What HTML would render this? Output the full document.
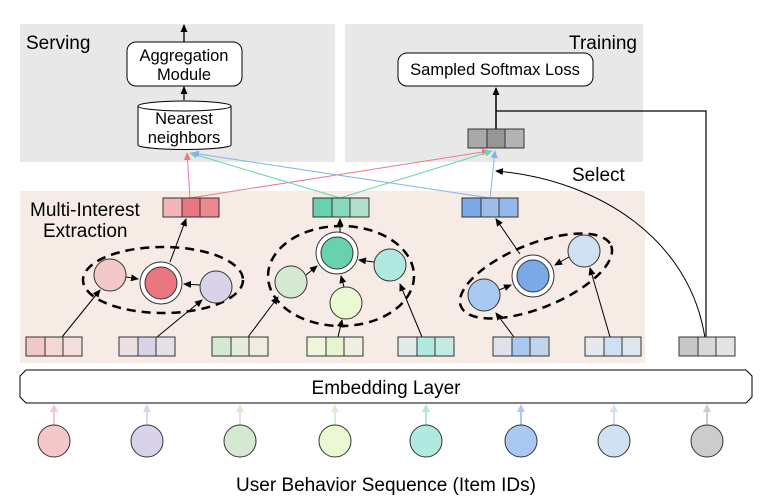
<!DOCTYPE html>
<html><head><meta charset="utf-8"><style>
html,body{margin:0;padding:0;background:#fff;}
svg{display:block;font-family:"Liberation Sans",Arial,sans-serif;}
</style></head><body>
<svg width="764" height="503" viewBox="0 0 764 503" xmlns="http://www.w3.org/2000/svg">
<defs>
<marker id="ak" markerWidth="8" markerHeight="8" refX="7" refY="4" orient="auto" markerUnits="userSpaceOnUse"><path d="M0,0.5 L8,4 L0,7.5 z" fill="#000"/></marker>
<marker id="ar" markerWidth="8" markerHeight="8" refX="7" refY="4" orient="auto" markerUnits="userSpaceOnUse"><path d="M0,0.5 L8,4 L0,7.5 z" fill="#ee7a85"/></marker>
<marker id="at" markerWidth="8" markerHeight="8" refX="7" refY="4" orient="auto" markerUnits="userSpaceOnUse"><path d="M0,0.5 L8,4 L0,7.5 z" fill="#6bd4b0"/></marker>
<marker id="ab" markerWidth="8" markerHeight="8" refX="7" refY="4" orient="auto" markerUnits="userSpaceOnUse"><path d="M0,0.5 L8,4 L0,7.5 z" fill="#86b2ec"/></marker>
</defs>
<rect x="20" y="24" width="315" height="138" fill="#e8e8e8"/>
<rect x="345" y="24" width="298" height="138" fill="#e8e8e8"/>
<rect x="20" y="191" width="625" height="172" fill="#f6ebe5"/>
<text x="26" y="49" font-size="19">Serving</text>
<text x="637" y="49" font-size="19" text-anchor="end">Training</text>
<text x="30" y="216" font-size="19">Multi-Interest</text>
<text x="43" y="237" font-size="19">Extraction</text>
<text x="572" y="181" font-size="19">Select</text>
<line x1="184" y1="42" x2="184" y2="25" stroke="#000" stroke-width="1.3" marker-end="url(#ak)"/>
<rect x="127" y="42" width="115" height="44" rx="9" fill="#fff" stroke="#000" stroke-width="1"/>
<text x="184" y="61" font-size="16.5" text-anchor="middle">Aggregation</text>
<text x="184" y="80" font-size="16.5" text-anchor="middle">Module</text>
<line x1="184" y1="100" x2="184" y2="87" stroke="#000" stroke-width="1.3" marker-end="url(#ak)"/>
<path d="M138,106 L138,145 A46.5,4.5 0 0 0 231,145 L231,106" fill="#fff" stroke="#000" stroke-width="1"/>
<ellipse cx="184.5" cy="106" rx="46.5" ry="5" fill="#fff" stroke="#000" stroke-width="1"/>
<text x="184" y="124" font-size="16.5" text-anchor="middle">Nearest</text>
<text x="184" y="143" font-size="16.5" text-anchor="middle">neighbors</text>
<rect x="398" y="53" width="195" height="33" rx="9" fill="#fff" stroke="#000" stroke-width="1"/>
<text x="495" y="75" font-size="16.5" text-anchor="middle">Sampled Softmax Loss</text>
<line x1="496" y1="129" x2="496" y2="88" stroke="#000" stroke-width="1.5" marker-end="url(#ak)"/>
<polyline points="496,111 706,111 706,338" fill="none" stroke="#000" stroke-width="1.2"/>
<g stroke="#333" stroke-width="1">
<rect x="468" y="129" width="19" height="19" fill="#a9a9a9"/><rect x="487" y="129" width="18" height="19" fill="#969696"/><rect x="505" y="129" width="19" height="19" fill="#b3b3b3"/>
</g>
<path d="M705,338 C690,240 600,180 496,171" fill="none" stroke="#000" stroke-width="1" marker-end="url(#ak)"/>
<line x1="190" y1="198" x2="187" y2="153" stroke="#ee7a85" stroke-width="1" marker-end="url(#ar)"/>
<line x1="190" y1="198" x2="489" y2="151" stroke="#ee7a85" stroke-width="1" marker-end="url(#ar)"/>
<line x1="340" y1="198" x2="190" y2="153" stroke="#6bd4b0" stroke-width="1" marker-end="url(#at)"/>
<line x1="340" y1="198" x2="492" y2="151" stroke="#6bd4b0" stroke-width="1" marker-end="url(#at)"/>
<line x1="490" y1="198" x2="192" y2="153" stroke="#86b2ec" stroke-width="1" marker-end="url(#ab)"/>
<line x1="490" y1="198" x2="495" y2="151" stroke="#86b2ec" stroke-width="1" marker-end="url(#ab)"/>
<g stroke="#333" stroke-width="1">
<rect x="163" y="198" width="19" height="19" fill="#f2b5b8"/><rect x="182" y="198" width="18" height="19" fill="#e97782"/><rect x="200" y="198" width="19" height="19" fill="#ec8a92"/>
<rect x="313" y="198" width="19" height="19" fill="#67d1b0"/><rect x="332" y="198" width="18" height="19" fill="#86d9be"/><rect x="350" y="198" width="19" height="19" fill="#b0e0cb"/>
<rect x="462" y="198" width="19" height="19" fill="#7aa9e6"/><rect x="481" y="198" width="18" height="19" fill="#9dbde9"/><rect x="499" y="198" width="19" height="19" fill="#93b8ea"/>
</g>
<g fill="none" stroke="#000" stroke-width="2.5" stroke-dasharray="9,6">
<ellipse cx="163" cy="280" rx="80" ry="33"/>
<ellipse cx="341" cy="276" rx="73" ry="50"/>
<ellipse cx="536" cy="276" rx="81" ry="32" transform="rotate(-22 536 276)"/>
</g>
<g stroke="#000" stroke-width="1" marker-end="url(#ak)">
<line x1="62" y1="337" x2="100" y2="290"/>
<line x1="157" y1="337" x2="202" y2="300"/>
<line x1="170" y1="262" x2="186" y2="219"/>
<line x1="126" y1="277" x2="138" y2="279"/>
<line x1="200" y1="285" x2="184" y2="284"/>
<line x1="248" y1="337" x2="278" y2="297"/>
<line x1="338" y1="337" x2="342" y2="320"/>
<line x1="422" y1="337" x2="400" y2="284"/>
<line x1="306" y1="275" x2="317" y2="266"/>
<line x1="344" y1="287" x2="341" y2="276"/>
<line x1="374" y1="262" x2="359" y2="260"/>
<line x1="340" y1="232" x2="340" y2="219"/>
<line x1="514" y1="337" x2="496" y2="313"/>
<line x1="610" y1="337" x2="590" y2="268"/>
<line x1="520" y1="254" x2="496" y2="219"/>
<line x1="499" y1="290" x2="511" y2="285"/>
<line x1="569" y1="257" x2="555" y2="265"/>
</g>
<g stroke="#333" stroke-width="1">
<circle cx="110" cy="275" r="16" fill="#f4c8c9"/>
<circle cx="161" cy="283" r="21" fill="#fff"/><circle cx="161" cy="283" r="16" fill="#e97782"/>
<circle cx="216" cy="287" r="16" fill="#d9d3ea"/>
<circle cx="291" cy="282" r="16" fill="#d5e8d2"/>
<circle cx="337" cy="253" r="21" fill="#fff"/><circle cx="337" cy="253" r="16" fill="#67d1b0"/>
<circle cx="346" cy="303" r="16" fill="#eaf9d2"/>
<circle cx="390" cy="265" r="16" fill="#b0e9e0"/>
<circle cx="484" cy="295" r="16" fill="#a9c9f2"/>
<circle cx="533" cy="276" r="21" fill="#fff"/><circle cx="533" cy="276" r="16" fill="#7aa9e6"/>
<circle cx="584" cy="251" r="16" fill="#cfe0f3"/>
</g>
<g stroke="#333" stroke-width="1">
<rect x="26" y="337" width="19" height="19" fill="#f2c8ca"/><rect x="45" y="337" width="18" height="19" fill="#f4d6d5"/><rect x="63" y="337" width="19" height="19" fill="#f4dfdc"/>
<rect x="119" y="337" width="19" height="19" fill="#ebe1e5"/><rect x="138" y="337" width="18" height="19" fill="#d9d3ea"/><rect x="156" y="337" width="19" height="19" fill="#e6e0e6"/>
<rect x="212" y="337" width="19" height="19" fill="#d5e8d2"/><rect x="231" y="337" width="18" height="19" fill="#e4ecdc"/><rect x="249" y="337" width="19" height="19" fill="#efece0"/>
<rect x="307" y="337" width="19" height="19" fill="#eef5d8"/><rect x="326" y="337" width="18" height="19" fill="#e6f4cf"/><rect x="344" y="337" width="19" height="19" fill="#f0efdf"/>
<rect x="398" y="337" width="19" height="19" fill="#e0ece7"/><rect x="417" y="337" width="18" height="19" fill="#b0e9e0"/><rect x="435" y="337" width="19" height="19" fill="#c5e9e3"/>
<rect x="493" y="337" width="19" height="19" fill="#dfe2ea"/><rect x="512" y="337" width="18" height="19" fill="#a9c9f2"/><rect x="530" y="337" width="19" height="19" fill="#c2d4ec"/>
<rect x="585" y="337" width="19" height="19" fill="#e5e8ec"/><rect x="604" y="337" width="18" height="19" fill="#cfe0f3"/><rect x="622" y="337" width="19" height="19" fill="#e0e6ee"/>
<rect x="679" y="337" width="19" height="19" fill="#c8c8c8"/><rect x="698" y="337" width="18" height="19" fill="#d8d8d8"/><rect x="716" y="337" width="19" height="19" fill="#e4e4e4"/>
</g>
<path d="M26,370 L746,370 L752,376 L752,397 L746,403 L26,403 L20,397 L20,376 Z" fill="#fff" stroke="#000" stroke-width="1"/>
<text x="386" y="394" font-size="19" text-anchor="middle">Embedding Layer</text>
<g stroke-width="2">
<line x1="54" y1="425" x2="54" y2="410" stroke="#f4c8c9"/><path d="M50,412 L54,404 L58,412z" fill="#f4c8c9"/>
<line x1="147" y1="425" x2="147" y2="410" stroke="#dcd6ee"/><path d="M143,412 L147,404 L151,412z" fill="#dcd6ee"/>
<line x1="240" y1="425" x2="240" y2="410" stroke="#d8ead4"/><path d="M236,412 L240,404 L244,412z" fill="#d8ead4"/>
<line x1="335" y1="425" x2="335" y2="410" stroke="#ddeecf"/><path d="M331,412 L335,404 L339,412z" fill="#ddeecf"/>
<line x1="426" y1="425" x2="426" y2="410" stroke="#b0e9e0"/><path d="M422,412 L426,404 L430,412z" fill="#b0e9e0"/>
<line x1="521" y1="425" x2="521" y2="410" stroke="#a9c9f2"/><path d="M517,412 L521,404 L525,412z" fill="#a9c9f2"/>
<line x1="614" y1="425" x2="614" y2="410" stroke="#cfe0f3"/><path d="M610,412 L614,404 L618,412z" fill="#cfe0f3"/>
<line x1="707" y1="425" x2="707" y2="410" stroke="#cccccc"/><path d="M703,412 L707,404 L711,412z" fill="#cccccc"/>
</g>
<g stroke="#333" stroke-width="1">
<circle cx="54" cy="441" r="16" fill="#f4c8c9"/>
<circle cx="147" cy="441" r="16" fill="#d9d3ea"/>
<circle cx="240" cy="441" r="16" fill="#d5e8d2"/>
<circle cx="335" cy="441" r="16" fill="#eaf9d2"/>
<circle cx="426" cy="441" r="16" fill="#b0e9e0"/>
<circle cx="521" cy="441" r="16" fill="#a9c9f2"/>
<circle cx="614" cy="441" r="16" fill="#cfe0f3"/>
<circle cx="707" cy="441" r="16" fill="#cccccc"/>
</g>
<text x="386" y="491" font-size="19" text-anchor="middle">User Behavior Sequence (Item IDs)</text>
</svg>
</body></html>
